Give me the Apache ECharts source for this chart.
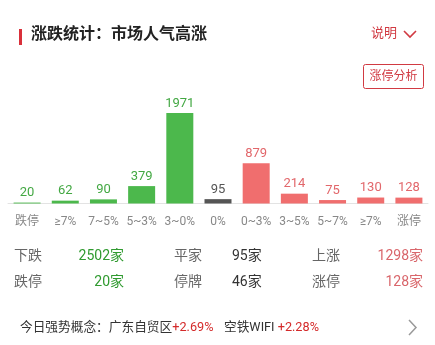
<!DOCTYPE html>
<html>
<head>
<meta charset="utf-8">
<script src="https://cdn.jsdelivr.net/npm/echarts@6/dist/echarts.min.js"></script>
<style>
  html, body { margin: 0; padding: 0; background: #fff; }
  #zhang { width: 435px; height: 345px; }
</style>
</head>
<body>
<div id="zhang"></div>
<script>
// 涨跌分布
var cats = ["跌停", "≥7%", "7~5%", "5~3%", "3~0%", "0%", "0~3%", "3~5%", "5~7%", "≥7%", "涨停"];
var counts = [20, 62, 90, 379, 1971, 95, 879, 214, 75, 130, 128];
// 0 = 跌, 1 = 平, 2 = 涨
var kinds = [0, 0, 0, 0, 0, 1, 2, 2, 2, 2, 2];

// 下面两行统计
var statNames = [["下跌", "平家", "上涨"], ["跌停", "停牌", "涨停"]];
var statValues = [["2502家", "95家", "1298家"], ["20家", "46家", "128家"]];

// 强势概念
var concepts = ["广东自贸区", "空铁WIFI "];
var conceptPct = ["+2.69%", "+2.28%"];

var FONT = "Roboto, 'Noto Sans CJK SC', sans-serif";
var barColors = ["#4cb84c", "#555555", "#f06e6e"];
var labelColors = ["#43a843", "#555555", "#e2676b"];
var statColors = ["#2f9a2f", "#333333", "#d9666b"];

var barData = counts.map(function (v, i) {
  return {
    value: v,
    itemStyle: { color: barColors[kinds[i]] },
    label: { color: labelColors[kinds[i]] }
  };
});

var graphic = [
  { type: "rect", left: 19, top: 29, shape: { width: 3, height: 16 }, style: { fill: "#d9303a" } },
  { type: "text", left: 31, top: 27, style: { text: "涨跌统计：市场人气高涨", font: "bold 16px " + FONT, fill: "#222" } },
  { type: "text", left: 371, top: 27, style: { text: "说明", font: "13px " + FONT, fill: "#d13a42" } },
  { type: "polyline", shape: { points: [[404, 31], [410, 37], [416, 31]] }, style: { stroke: "#d13a42", lineWidth: 1.6, fill: null } },
  { type: "rect", shape: { x: 363.5, y: 64.5, width: 60, height: 24, r: 2 }, style: { stroke: "#d13a42", fill: "#fff", lineWidth: 1 } },
  { type: "text", x: 393.5, y: 76.5, style: { text: "涨停分析", font: "12px " + FONT, fill: "#d13a42", align: "center", verticalAlign: "middle" } },
  { type: "polyline", shape: { points: [[409, 320], [416, 327.5], [409, 335]] }, style: { stroke: "#999", lineWidth: 1.5, fill: null } },
  {
    type: "text", x: 20, y: 327.5,
    style: {
      text: "今日强势概念：" + concepts[0] + "{r|" + conceptPct[0] + "}",
      font: "12.7px " + FONT, fill: "#333", verticalAlign: "middle",
      rich: { r: { fill: "#d42a2a", font: "12.7px " + FONT } }
    }
  },
  {
    type: "text", x: 224, y: 327.5,
    style: {
      text: concepts[1] + "{r|" + conceptPct[1] + "}",
      font: "12.7px " + FONT, fill: "#333", verticalAlign: "middle",
      rich: { r: { fill: "#d42a2a", font: "12.7px " + FONT } }
    }
  }
];

var nameX = [14, 174, 312];
var valRight = [124, 262, 423];
var rowY = [256, 282];
for (var r = 0; r < 2; r++) {
  for (var c = 0; c < 3; c++) {
    graphic.push({ type: "text", x: nameX[c], y: rowY[r], style: { text: statNames[r][c], font: "14px " + FONT, fill: "#666", verticalAlign: "middle" } });
    var isMid = c === 1;
    graphic.push({
      type: "text", x: isMid ? 232 : valRight[c], y: rowY[r],
      style: { text: statValues[r][c], font: "14px " + FONT, fill: statColors[c], align: isMid ? "left" : "right", verticalAlign: "middle" }
    });
  }
}

var option = {
  animation: false,
  grid: { left: 8, right: 7, top: 113, bottom: 141.5 },
  xAxis: {
    type: "category",
    data: cats,
    axisLine: { lineStyle: { color: "#e3e3e3" } },
    axisTick: { show: false },
    axisLabel: { color: "#888", fontSize: 12, fontFamily: FONT, margin: 12, interval: 0 }
  },
  yAxis: { type: "value", min: 0, max: 1971, show: false, splitLine: { show: false } },
  series: [
    {
      type: "bar",
      data: barData,
      barWidth: 27,
      label: { show: true, position: "top", distance: 3, fontSize: 13, fontFamily: FONT }
    }
  ],
  graphic: graphic
};

var myChart = echarts.init(document.getElementById("zhang"));
myChart.setOption(option);
</script>
</body>
</html>
